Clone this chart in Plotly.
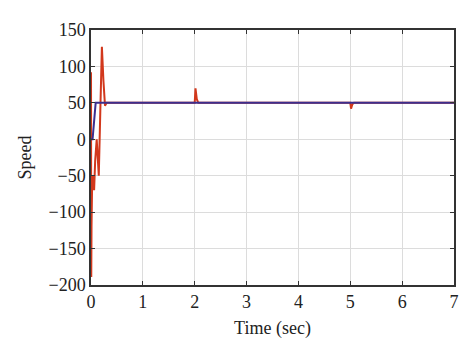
import plotly.graph_objects as go

# Data
t_red = [0, 0.005, 0.01, 0.02, 0.04, 0.06, 0.08, 0.11, 0.13, 0.15, 0.18, 0.21, 0.24, 0.27, 0.3,
         2.0, 2.015, 2.04, 2.07, 5.0, 5.015, 5.04, 5.07, 7.0]
speed_red = [92, -189, -120, -70, -50, -70, -30, 0, -20, -50, 40, 127, 80, 46, 50,
             50, 70, 55, 50, 50, 42, 48, 50, 50]
t_blue = [0, 0.03, 0.09, 7.0]
speed_blue = [0, 0, 50, 50]

x_ticks = [0, 1, 2, 3, 4, 5, 6, 7]
y_ticks = [-200, -150, -100, -50, 0, 50, 100, 150]
y_tick_text = ["\u2212200", "\u2212150", "\u2212100", "\u221250", "0", "50", "100", "150"]

SERIF = "Liberation Serif, Times New Roman, serif"

fig = go.Figure()
fig.add_trace(go.Scatter(x=t_red, y=speed_red, mode="lines",
                         line=dict(color="#d2381c", width=2), showlegend=False))
fig.add_trace(go.Scatter(x=t_blue, y=speed_blue, mode="lines",
                         line=dict(color="#3b2f8f", width=2), showlegend=False))

axis_common = dict(showline=True, linecolor="#333333", linewidth=1.5, mirror="ticks",
                   ticks="inside", ticklen=4, tickcolor="#333333",
                   showgrid=True, gridcolor="#dcdcdc", gridwidth=1, zeroline=False,
                   tickfont=dict(family=SERIF, size=18, color="#222222"))

fig.update_layout(
    width=474, height=355,
    margin=dict(l=83, r=28, t=14, b=78),
    plot_bgcolor="white", paper_bgcolor="white",
    font=dict(family=SERIF, size=18, color="#222222"),
    xaxis=dict(range=[0, 7], tickvals=x_ticks,
               title=dict(text="Time (sec)", font=dict(family=SERIF, size=18), standoff=10),
               **axis_common),
    yaxis=dict(range=[-200, 150], tickvals=y_ticks, ticktext=y_tick_text,
               title=dict(text="Speed", font=dict(family=SERIF, size=18), standoff=12),
               **axis_common),
)

fig.write_html("out.html")
